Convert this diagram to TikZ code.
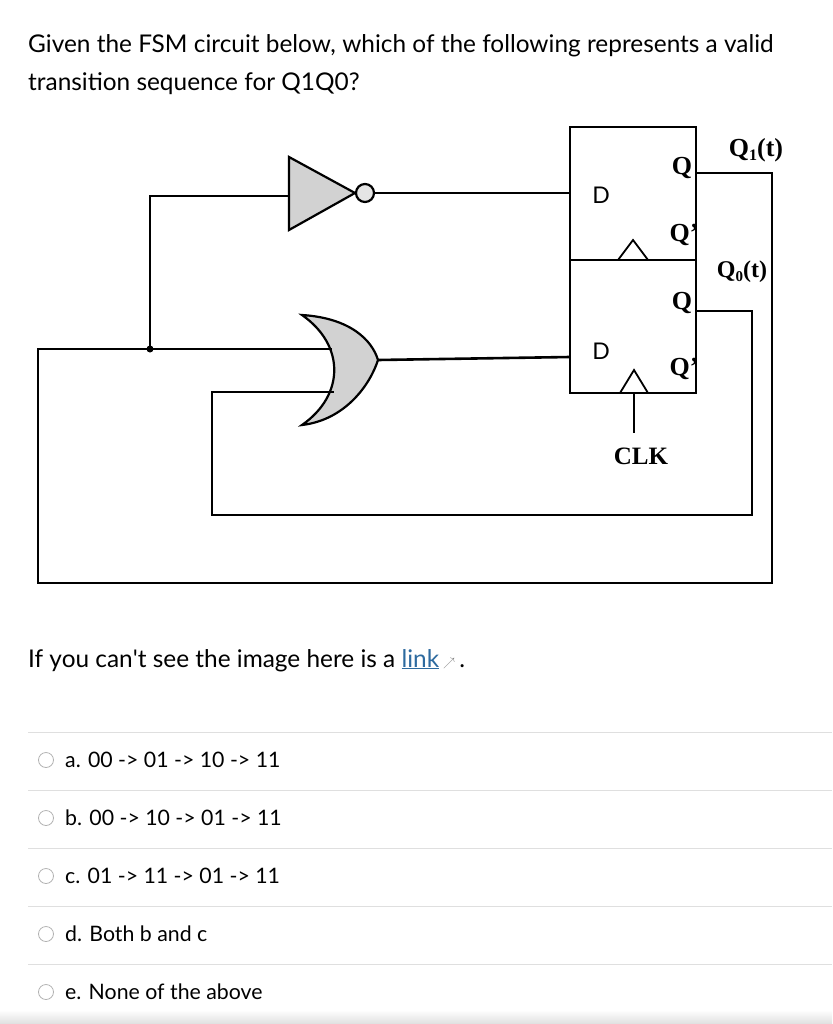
\documentclass[tikz,border=0pt]{standalone}
\usepackage{fontspec}
\usepackage{textcomp}
\setmainfont{Lato}
\newfontfamily\serfont{Liberation Serif}
\begin{document}
\begin{tikzpicture}[x=1pt,y=-1pt,
  wire/.style={line width=2.6pt},
  gate/.style={draw,line width=2.2pt,fill=gray!35},
  txt/.style={anchor=west,inner sep=0,font=\fontsize{24.4}{28}\selectfont},
  opt/.style={anchor=west,inner sep=0,font=\fontsize{21.3}{25}\selectfont},
  pin/.style={inner sep=0,font=\serfont\bfseries\fontsize{26}{28}\selectfont},
  dlab/.style={inner sep=0,font=\fontsize{23}{26}\selectfont},
  sep/.style={draw=gray!25,line width=0.8pt},
  radio/.style={circle,draw=gray!60,line width=0.8pt,minimum size=15pt,inner sep=0}]
\useasboundingbox (0,0) rectangle (832,1024);
\node[txt] (t1) at (28,46) {Given the FSM circuit below, which of the following represents a valid};
\node[txt] (t2) at (28,84) {transition sequence for Q1Q0?};
% flip-flops
\draw[wire] (570,127) rectangle (696,393);
\draw[wire] (570,260) -- (696,260);
\coordinate (ff1d) at (570,193);
\coordinate (ff0d) at (570,357);
\coordinate (ff1q) at (696,173);
\coordinate (ff0q) at (696,311);
\node[dlab] (d1) at (601,195) {D};
\node[dlab] (d0) at (601,351) {D};
\node[pin] (q1) at (682,168) {Q};
\node[pin] (q1n) at (684,235) {Q\textquoteright};
\node[pin] (q0) at (682,303) {Q};
\node[pin] (q0n) at (684,369) {Q\textquoteright};
\draw[line width=1.8pt] (618,260) -- (633,240) -- (648,260);
\draw[line width=1.8pt] (620,393) -- (634,370) -- (648,393);
\coordinate (clkin) at (634,393);
\node[inner sep=0,font=\serfont\bfseries\fontsize{25}{26}\selectfont] (clk) at (641,456) {CLK};
\draw[line width=2.2pt] (clkin) -- (634,433);
\node[inner sep=0,font=\serfont\bfseries\fontsize{26}{28}\selectfont] (q1t) at (756,150) {Q\raisebox{-4pt}{\fontsize{16}{16}\selectfont 1}(t)};
\node[inner sep=0,font=\serfont\bfseries\fontsize{24}{26}\selectfont] (q0t) at (742,272) {Q\raisebox{-4pt}{\fontsize{15}{15}\selectfont 0}(t)};
% NOT gate
\draw[gate] (289,157) -- (355,193) -- (289,230) -- cycle;
\node[circle,draw,line width=2.2pt,fill=gray!20,minimum size=18pt,inner sep=0] (bub) at (365,193) {};
\draw[wire] (bub.east) -- (ff1d);
% OR gate
\draw[gate] (302,315) .. controls (350,318) and (372,340) .. (378,360)
  .. controls (370,385) and (345,420) .. (302,425)
  .. controls (345,395) and (345,345) .. cycle;
\coordinate (orout) at (378,360);
\draw[wire] (orout) -- (ff0d);
% wires
\coordinate (j) at (150,349);
\draw[wire] (ff1q) -- (772,173) -- (772,583) -- (38,583) -- (38,349) -- (332,349);
\draw[wire] (j) -- (150,196) -- (289,196);
\fill (j) circle (3.5pt);
\draw[wire] (ff0q) -- (752,311) -- (752,515) -- (212,515) -- (212,392) -- (334,392);
% link text
\node[txt,anchor=base west] (lk) at (28,667) {If you can\textquotesingle t see the image here is a \textcolor[HTML]{2D6A9F}{\underline{link}}\,\textcolor{gray}{\fontsize{13}{13}\selectfont\raisebox{1pt}{$\nearrow$}}\,.};
% options
\foreach \y in {732,790,848,906,964} \draw[sep] (28,\y) -- (832,\y);
\node[radio] (r1) at (46,760) {}; \node[opt] (o1) at (65,760) {a. 00 -> 01 -> 10 -> 11};
\node[radio] (r2) at (46,818) {}; \node[opt] (o2) at (65,818) {b. 00 -> 10 -> 01 -> 11};
\node[radio] (r3) at (46,876) {}; \node[opt] (o3) at (65,876) {c. 01 -> 11 -> 01 -> 11};
\node[radio] (r4) at (46,934) {}; \node[opt] (o4) at (65,934) {d. Both b and c};
\node[radio] (r5) at (46,992) {}; \node[opt] (o5) at (65,992) {e. None of the above};
\shade[top color=white,bottom color=gray!25] (0,1010) rectangle (832,1024);
\end{tikzpicture}
\end{document}
